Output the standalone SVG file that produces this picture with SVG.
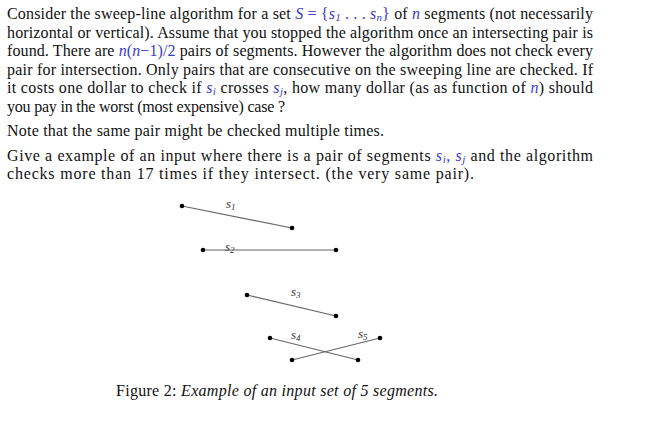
<svg xmlns="http://www.w3.org/2000/svg" width="654" height="431" viewBox="0 0 654 431">
<style>
.t{font-family:"Liberation Serif",serif;font-size:16px;fill:#111}
.m{fill:#3a3acc;font-style:italic}
.sb{font-size:11px}
.l{font-family:"Liberation Serif",serif;font-size:13px;font-style:italic;fill:#333}
.seg{stroke:#666;stroke-width:1.2}
.d{fill:#000}
</style>
<rect width="654" height="431" fill="#fff"/>
<g id="text">
<text class="t" x="7" y="19" textLength="586" lengthAdjust="spacing">Consider the sweep-line algorithm for a set <tspan class="m">S</tspan><tspan fill="#3a3acc"> = {</tspan><tspan class="m">s</tspan><tspan class="m sb" dy="2">1</tspan><tspan fill="#3a3acc" dy="-2"> . . . </tspan><tspan class="m">s</tspan><tspan class="m sb" dy="2">n</tspan><tspan fill="#3a3acc" dy="-2">}</tspan> of <tspan class="m">n</tspan> segments (not necessarily</text>
<text class="t" x="7" y="38" textLength="586" lengthAdjust="spacing">horizontal or vertical). Assume that you stopped the algorithm once an intersecting pair is</text>
<text class="t" x="7" y="56" textLength="586" lengthAdjust="spacing">found. There are <tspan class="m">n</tspan><tspan fill="#3a3acc">(</tspan><tspan class="m">n</tspan><tspan fill="#3a3acc">−1)/2</tspan> pairs of segments. However the algorithm does not check every</text>
<text class="t" x="7" y="75" textLength="586" lengthAdjust="spacing">pair for intersection. Only pairs that are consecutive on the sweeping line are checked. If</text>
<text class="t" x="7" y="93" textLength="586" lengthAdjust="spacing">it costs one dollar to check if <tspan class="m">s</tspan><tspan class="m sb" dy="2">i</tspan><tspan dy="-2"> crosses </tspan><tspan class="m">s</tspan><tspan class="m sb" dy="2">j</tspan><tspan dy="-2">, how many dollar (as as function of </tspan><tspan class="m">n</tspan>) should</text>
<text class="t" x="7" y="112" textLength="278" lengthAdjust="spacing">you pay in the worst (most expensive) case ?</text>
<text class="t" x="7" y="136" textLength="377" lengthAdjust="spacing">Note that the same pair might be checked multiple times.</text>
<text class="t" x="7" y="161" textLength="586" lengthAdjust="spacing">Give a example of an input where there is a pair of segments <tspan class="m">s</tspan><tspan class="m sb" dy="2">i</tspan><tspan fill="#3a3acc" dy="-2">, </tspan><tspan class="m">s</tspan><tspan class="m sb" dy="2">j</tspan><tspan dy="-2"> and the algorithm</tspan></text>
<text class="t" x="7" y="179" textLength="467" lengthAdjust="spacing">checks more than 17 times if they intersect. (the very same pair).</text>
<text class="t" x="116" y="396" textLength="322" lengthAdjust="spacing">Figure 2: <tspan font-style="italic">Example of an input set of 5 segments.</tspan></text>
</g>
<g id="connectors">
<line class="seg" x1="182" y1="206" x2="292" y2="228"/>
<line class="seg" x1="203" y1="250" x2="336" y2="250"/>
<line class="seg" x1="247" y1="295" x2="336" y2="316"/>
<line class="seg" x1="270" y1="338" x2="358" y2="360"/>
<line class="seg" x1="292" y1="360" x2="380" y2="338"/>
</g>
<g id="s1"><circle class="d" cx="182" cy="206" r="2.3"/><circle class="d" cx="292" cy="228" r="2.3"/><text class="l" x="226" y="208">s<tspan font-size="9" dy="2">1</tspan></text></g>
<g id="s2"><circle class="d" cx="203" cy="250" r="2.3"/><circle class="d" cx="336" cy="250" r="2.3"/><text class="l" x="225" y="251">s<tspan font-size="9" dy="2">2</tspan></text></g>
<g id="s3"><circle class="d" cx="247" cy="295" r="2.3"/><circle class="d" cx="336" cy="316" r="2.3"/><text class="l" x="291" y="296">s<tspan font-size="9" dy="2">3</tspan></text></g>
<g id="s4"><circle class="d" cx="270" cy="338" r="2.3"/><circle class="d" cx="358" cy="360" r="2.3"/><text class="l" x="291" y="339">s<tspan font-size="9" dy="2">4</tspan></text></g>
<g id="s5"><circle class="d" cx="292" cy="360" r="2.3"/><circle class="d" cx="380" cy="338" r="2.3"/><text class="l" x="358" y="338">s<tspan font-size="9" dy="2">5</tspan></text></g>
</svg>
